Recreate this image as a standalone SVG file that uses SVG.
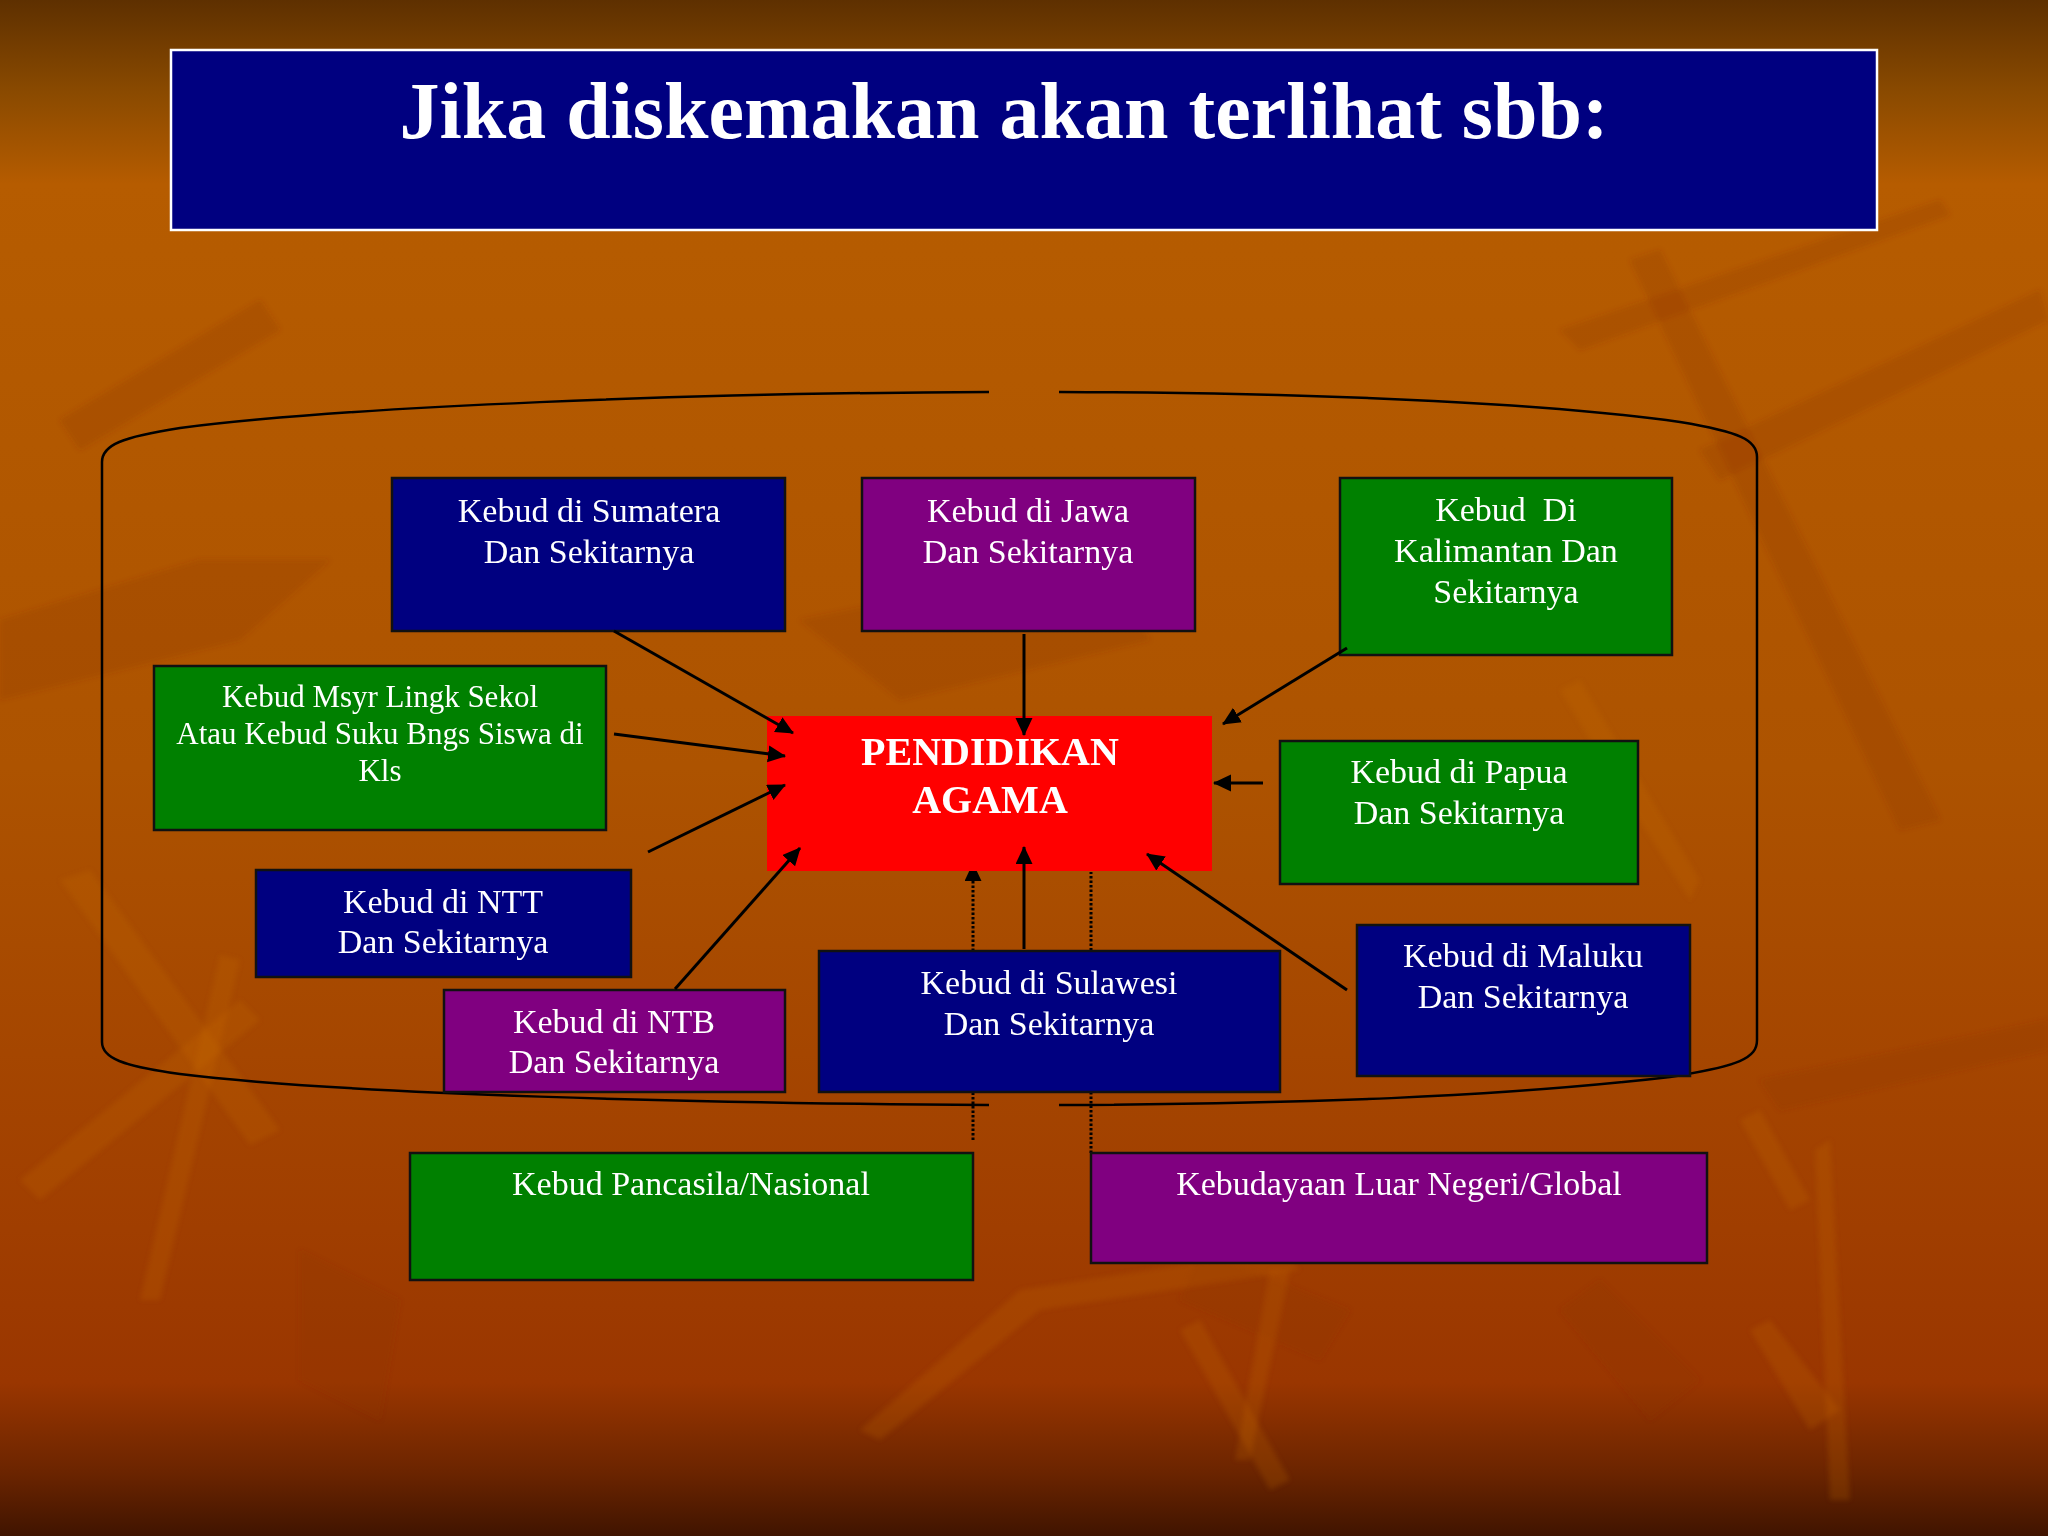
<svg xmlns="http://www.w3.org/2000/svg" width="2048" height="1536" viewBox="0 0 2048 1536">
<defs>
<linearGradient id="bg" x1="0" y1="0" x2="0" y2="1">
<stop offset="0" stop-color="#5e3000"/>
<stop offset="0.06" stop-color="#8a4a00"/>
<stop offset="0.12" stop-color="#b65c00"/>
<stop offset="0.5" stop-color="#ad5300"/>
<stop offset="0.8" stop-color="#a03e00"/>
<stop offset="0.9" stop-color="#9a3600"/>
<stop offset="0.96" stop-color="#6a2400"/>
<stop offset="1" stop-color="#401400"/>
</linearGradient>
<filter id="soft" x="-10%" y="-10%" width="120%" height="120%">
<feGaussianBlur stdDeviation="2.5"/>
</filter>
<marker id="ah" markerUnits="userSpaceOnUse" markerWidth="20" markerHeight="20" refX="17" refY="8.5" orient="auto">
<path d="M0,0 L18,8.5 L0,17 z" fill="#000"/>
</marker>
<style>
.nb{stroke:#111;stroke-width:2.5}
.navy{fill:#000080}
.purple{fill:#800080}
.green{fill:#008000}
.t{font-family:"Liberation Serif","Times New Roman",serif;fill:#fff;text-anchor:middle;font-size:34px}
.ts{font-size:31px}
.tb{font-weight:bold;font-size:40px}
.c{stroke:#000;stroke-width:3;fill:none;marker-end:url(#ah)}
.d{stroke:#000;stroke-width:3;fill:none;stroke-dasharray:2.5 2}
.dk{fill:#8c3400;opacity:0.22}
.lt{fill:#c87000;opacity:0.2}
</style>
</defs>
<rect x="0" y="0" width="2048" height="1536" fill="url(#bg)"/>
<g id="background-leaves" filter="url(#soft)">
<polygon class="dk" points="1630,260 1660,250 1940,820 1900,830"/>
<polygon class="dk" points="1700,450 2040,290 2048,320 1720,480"/>
<polygon class="dk" points="1560,330 1940,200 1950,215 1580,350"/>
<polygon class="dk" points="1760,1080 2048,1020 2048,1050 1780,1110"/>
<polygon class="dk" points="1600,1280 1700,1380 1650,1420 1560,1310"/>
<polygon class="dk" points="0,620 200,560 330,560 240,640 0,700"/>
<polygon class="dk" points="60,420 260,300 280,330 80,450"/>
<polygon class="dk" points="800,620 1100,560 1150,640 900,700"/>
<polygon class="dk" points="1200,1250 1350,1310 1320,1360 1180,1300"/>
<polygon class="dk" points="300,1250 400,1300 380,1420 300,1380"/>
<polygon class="lt" points="60,880 90,870 280,1130 250,1145"/>
<polygon class="lt" points="140,1300 160,1300 240,960 220,955"/>
<polygon class="lt" points="20,1180 240,1000 260,1020 40,1200"/>
<polygon class="lt" points="860,1430 1020,1290 1280,1250 1300,1270 1040,1310 880,1440"/>
<polygon class="lt" points="1200,1320 1290,1480 1270,1490 1180,1330"/>
<polygon class="lt" points="1290,1270 1250,1460 1235,1460 1270,1270"/>
<polygon class="lt" points="1770,1320 1840,1410 1810,1430 1750,1330"/>
<polygon class="lt" points="1580,680 1640,780 1700,880 1690,900 1620,790 1560,690"/>
<polygon class="lt" points="1760,1110 1810,1200 1790,1210 1740,1120"/>
<polygon class="lt" points="1830,1140 1850,1500 1830,1500 1815,1150"/>
</g>
<g id="title">
<rect x="171" y="50" width="1706" height="180" fill="#000080" stroke="#fff" stroke-width="2.5"/>
<text x="1004" y="138" font-family="Liberation Serif, Times New Roman, serif" font-weight="bold" font-size="80" fill="#fff" text-anchor="middle">Jika diskemakan akan terlihat sbb:</text>
</g>
<g id="cylinder" fill="none" stroke="#000" stroke-width="2.5">
<path d="M989,392 C700,393 350,406 180,428 C122,437 102,445 102,462 L102,1042 C102,1058 122,1066 180,1074 C350,1095 700,1103 989,1105"/>
<path d="M1059,392 C1350,393 1560,405 1680,422 C1740,432 1757,440 1757,457 L1757,1040 C1757,1058 1740,1066 1670,1077 C1500,1097 1300,1104 1059,1105"/>
</g>
<g id="connectors-dotted">
<path class="d" d="M973,1140 V864" marker-end="url(#ah)"/>
<path class="d" d="M1091,1153 V872"/>
</g>
<g id="node-sumatera">
<rect class="nb navy" x="392" y="478" width="393" height="153"/>
<text class="t" x="589" y="522">Kebud di Sumatera</text>
<text class="t" x="589" y="563">Dan Sekitarnya</text>
</g>
<g id="node-jawa">
<rect class="nb purple" x="862" y="478" width="333" height="153"/>
<text class="t" x="1028" y="522">Kebud di Jawa</text>
<text class="t" x="1028" y="563">Dan Sekitarnya</text>
</g>
<g id="node-kalimantan">
<rect class="nb green" x="1340" y="478" width="332" height="177"/>
<text class="t" x="1506" y="521" xml:space="preserve">Kebud  Di</text>
<text class="t" x="1506" y="562">Kalimantan Dan</text>
<text class="t" x="1506" y="603">Sekitarnya</text>
</g>
<g id="node-msyr">
<rect class="nb green" x="154" y="666" width="452" height="164"/>
<text class="t ts" x="380" y="707">Kebud Msyr Lingk Sekol</text>
<text class="t ts" x="380" y="744">Atau Kebud Suku Bngs Siswa di</text>
<text class="t ts" x="380" y="781">Kls</text>
</g>
<g id="node-papua">
<rect class="nb green" x="1280" y="741" width="358" height="143"/>
<text class="t" x="1459" y="783">Kebud di Papua</text>
<text class="t" x="1459" y="824">Dan Sekitarnya</text>
</g>
<g id="node-ntt">
<rect class="nb navy" x="256" y="870" width="375" height="107"/>
<text class="t" x="443" y="913">Kebud di NTT</text>
<text class="t" x="443" y="953">Dan Sekitarnya</text>
</g>
<g id="node-ntb">
<rect class="nb purple" x="444" y="990" width="341" height="102"/>
<text class="t" x="614" y="1033">Kebud di NTB</text>
<text class="t" x="614" y="1073">Dan Sekitarnya</text>
</g>
<g id="node-sulawesi">
<rect class="nb navy" x="819" y="951" width="461" height="141"/>
<text class="t" x="1049" y="994">Kebud di Sulawesi</text>
<text class="t" x="1049" y="1035">Dan Sekitarnya</text>
</g>
<g id="node-maluku">
<rect class="nb navy" x="1357" y="925" width="333" height="151"/>
<text class="t" x="1523" y="967">Kebud di Maluku</text>
<text class="t" x="1523" y="1008">Dan Sekitarnya</text>
</g>
<g id="node-pancasila">
<rect class="nb green" x="410" y="1153" width="563" height="127"/>
<text class="t" x="691" y="1195">Kebud Pancasila/Nasional</text>
</g>
<g id="node-global">
<rect class="nb purple" x="1091" y="1153" width="616" height="110"/>
<text class="t" x="1399" y="1195">Kebudayaan Luar Negeri/Global</text>
</g>
<g id="node-pendidikan-agama">
<rect x="767" y="716" width="445" height="155" fill="#ff0000"/>
<text class="t tb" x="990" y="765">PENDIDIKAN</text>
<text class="t tb" x="990" y="813">AGAMA</text>
</g>
<g id="connectors">
<path class="c" d="M614,631 L793,733"/>
<path class="c" d="M614,734 L785,756"/>
<path class="c" d="M648,852 L785,785"/>
<path class="c" d="M675,989 L800,848"/>
<path class="c" d="M1024,634 L1024,735"/>
<path class="c" d="M1347,648 L1223,724"/>
<path class="c" d="M1263,783 L1214,783"/>
<path class="c" d="M1024,949 L1024,847"/>
<path class="c" d="M1347,990 L1147,854"/>
</g>
</svg>
